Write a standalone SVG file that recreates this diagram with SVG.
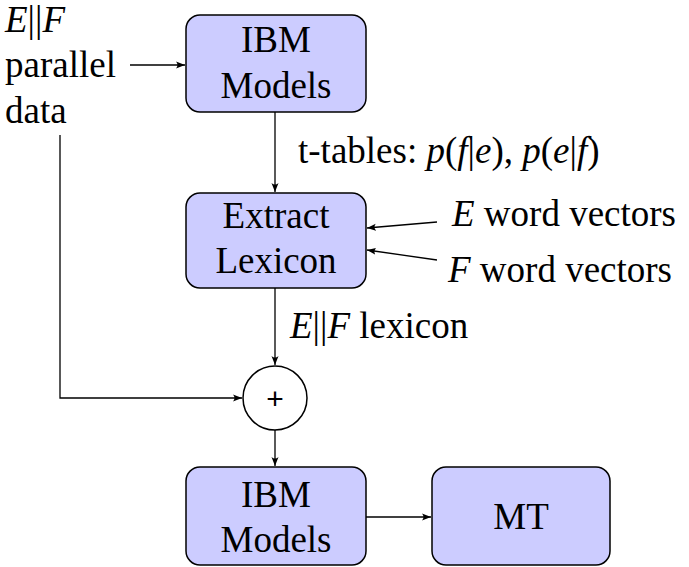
<svg xmlns="http://www.w3.org/2000/svg" width="689" height="567" viewBox="0 0 689 567">
<style>
.box{fill:#ccccff;stroke:#000;stroke-width:1.5}
text{font-family:"Liberation Serif","Times New Roman","DejaVu Serif",serif;font-size:37px;fill:#000}
.c{text-anchor:middle}
.ln{stroke:#000;stroke-width:1.3;fill:none;marker-end:url(#a)}
</style>
<defs><marker id="a" markerWidth="10" markerHeight="8" refX="9" refY="4" orient="auto" markerUnits="userSpaceOnUse"><path d="M0,0.5 L9,4 L0,7.5 Q3,4 0,0.5Z" fill="#000"/></marker></defs>
<rect width="689" height="567" fill="#fff"/>
<g id="connectors">
<path class="ln" d="M130,65 H185"/>
<path class="ln" d="M275,112 V192"/>
<path class="ln" d="M437,222 L367,228"/>
<path class="ln" d="M437,260 L367,250"/>
<path class="ln" d="M275,288 V365"/>
<path class="ln" d="M60,135 V398 H242"/>
<path class="ln" d="M275,430 V466"/>
<path class="ln" d="M366,517 H431"/>
</g>
<g id="input"><text x="5" y="32"><tspan font-style="italic">E</tspan>||<tspan font-style="italic">F</tspan></text><text x="5" y="77">parallel</text><text x="5" y="123">data</text></g>
<g id="ibm1"><rect class="box" x="186" y="15" width="180" height="97" rx="14"/><text class="c" x="276" y="52">IBM</text><text class="c" x="276" y="98">Models</text></g>
<g id="ttables"><text x="298" y="163">t-tables: <tspan font-style="italic">p</tspan>(<tspan font-style="italic">f</tspan>|<tspan font-style="italic">e</tspan>), <tspan font-style="italic">p</tspan>(<tspan font-style="italic">e</tspan>|<tspan font-style="italic">f</tspan>)</text></g>
<g id="extract"><rect class="box" x="186" y="193" width="180" height="95" rx="14"/><text class="c" x="276" y="228">Extract</text><text class="c" x="276" y="273">Lexicon</text></g>
<g id="evec"><text x="452" y="226"><tspan font-style="italic">E</tspan> word vectors</text></g>
<g id="fvec"><text x="448" y="282"><tspan font-style="italic">F</tspan> word vectors</text></g>
<g id="lexicon"><text x="290" y="338"><tspan font-style="italic">E</tspan>||<tspan font-style="italic">F</tspan> lexicon</text></g>
<g id="plus"><circle cx="275" cy="398" r="32" fill="#fff" stroke="#000" stroke-width="1.5"/><text class="c" x="275" y="409" style="font-family:'Liberation Sans',sans-serif;font-size:30px">+</text></g>
<g id="ibm2"><rect class="box" x="186" y="467" width="180" height="98" rx="14"/><text class="c" x="276" y="507">IBM</text><text class="c" x="276" y="552">Models</text></g>
<g id="mt"><rect class="box" x="432" y="467" width="178" height="98" rx="14"/><text class="c" x="521" y="529">MT</text></g>
</svg>
